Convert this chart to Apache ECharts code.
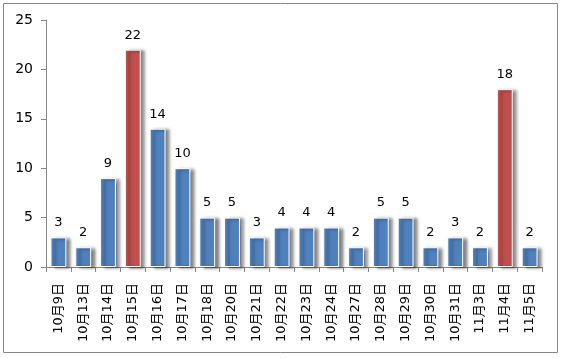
<!DOCTYPE html>
<html>
<head>
<meta charset="utf-8">
<script src="https://cdn.jsdelivr.net/npm/echarts@6/dist/echarts.min.js"></script>
<style>
html,body{margin:0;padding:0;background:#fff;}
#main{width:561px;height:358px;}
</style>
</head>
<body>
<div id="main"></div>
<script>
// 日期
let days = ["10月9日","10月13日","10月14日","10月15日","10月16日","10月17日","10月18日","10月20日","10月21日","10月22日",
            "10月23日","10月24日","10月27日","10月28日","10月29日","10月30日","10月31日","11月3日","11月4日","11月5日"]
// 数量
let counts = [3,2,9,22,14,10,5,5,3,4,4,4,2,5,5,2,3,2,18,2]
// 红色高亮的日期
let highlight = ["10月15日","11月4日"]
let yTicks = [0,5,10,15,20,25]

let blue = "#4F81BD"
let red = "#C0504D"
let font = "'DejaVu Sans', 'Noto Sans CJK SC', sans-serif"

let barData = []
for(let i=0;i<days.length;i++){
    barData.push({
        value: counts[i],
        itemStyle: {color: highlight.indexOf(days[i])>=0 ? red : blue}
    })
}

var myChart = echarts.init(document.getElementById('main'))

var option = {
    animation:false,
    backgroundColor:"#fff",
    textStyle:{fontFamily:font},
    graphic:[{
        type:"rect",
        shape:{x:3.5,y:3.5,width:554,height:349},
        style:{fill:"none",stroke:"#868686",lineWidth:1},
        silent:true
    }],
    grid:{left:46,right:19,top:20,bottom:91},
    xAxis:{
        type:"category",
        data:days,
        axisLine:{lineStyle:{color:"#868686"}},
        axisTick:{show:true,length:5,lineStyle:{color:"#868686"}},
        axisLabel:{rotate:90,interval:0,color:"#000",fontSize:13,margin:16,fontFamily:font}
    },
    yAxis:{
        type:"value",
        min:yTicks[0],
        max:yTicks[yTicks.length-1],
        interval:5,
        splitLine:{show:false},
        axisLine:{show:true,lineStyle:{color:"#868686"}},
        axisTick:{show:true,length:5,lineStyle:{color:"#868686"}},
        axisLabel:{color:"#000",fontSize:14,margin:13}
    },
    series:[{
        type:"bar",
        data:barData,
        barCategoryGap:"36%",
        itemStyle:{
            borderColor:"#fff",
            borderWidth:1,
            shadowColor:"rgba(0,0,0,0.5)",
            shadowBlur:3,
            shadowOffsetX:4,
            shadowOffsetY:1
        },
        label:{show:true,position:"top",distance:8,color:"#000",fontSize:13}
    }]
}

myChart.setOption(option)
</script>
</body>
</html>
